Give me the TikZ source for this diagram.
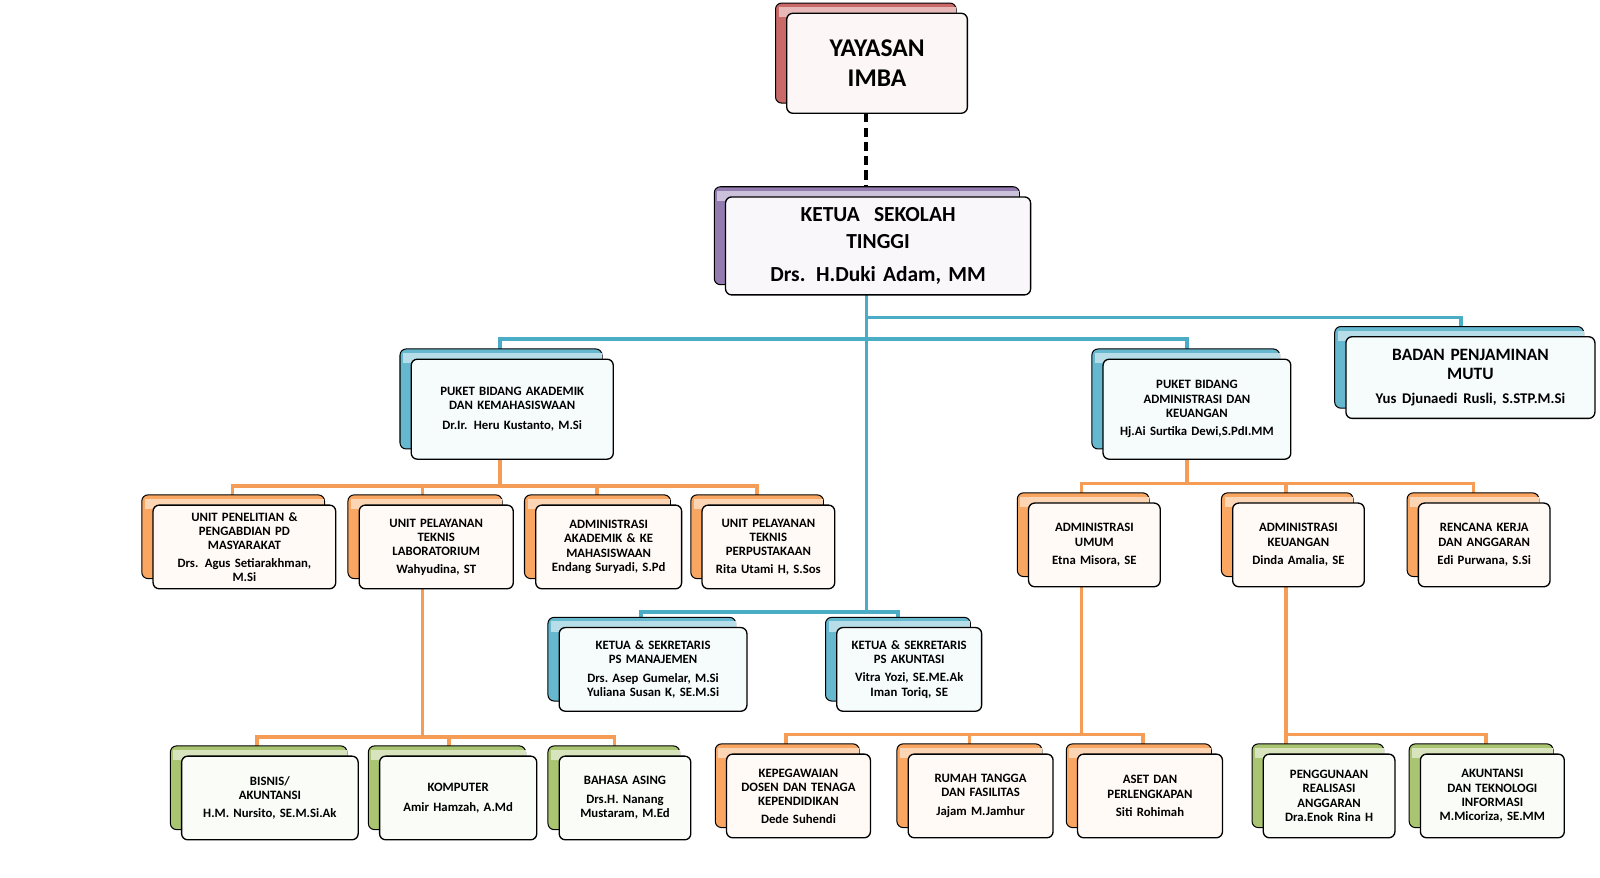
\documentclass[tikz,border=0pt]{standalone}
\usepackage{fontspec}
\setmainfont{Carlito}
\definecolor{cred}{HTML}{C0504D}
\definecolor{cpur}{HTML}{8064A2}
\definecolor{cblu}{HTML}{4BACC6}
\definecolor{cora}{HTML}{F79646}
\definecolor{cgre}{HTML}{9BBB59}
\definecolor{lblue}{HTML}{4BACC6}
\definecolor{lora}{HTML}{F59D56}
\tikzset{
 frontbox/.style={draw=black, line width=1.3pt, rounded corners=6pt, align=center, inner sep=2pt, font=\bfseries\fontsize{12.5}{14}\selectfont},
 backbox/.style={draw=black, line width=1pt, rounded corners=6pt},
 bl/.style={draw=lblue, line width=3.5pt},
 ol/.style={draw=lora, line width=3.5pt},
}
\newcommand{\bx}[8][]{%
 \path[backbox, fill=#7!85] ({#3-11},{#4-10}) rectangle ({#5-11},{#6-10});
 \path[fill=white!60!#7] ({#3-8},{#4-6}) rectangle ({#5-11},{#4+4});
 \node[frontbox, fill=#7!5, minimum width={(#5-#3)*1pt}, minimum height={(#6-#4)*1pt}, text width={(#5-#3-6)*1pt}, #1] (#2) at ({(#3+#5)/2},{(#4+#6)/2}) {#8};}
\begin{document}
\begin{tikzpicture}[x=1pt,y=-1pt]
\useasboundingbox (0,0) rectangle (1568,860);
\draw[bl] (849,289) -- (849,600);
\draw[bl] (490,342) |- (1163,332) -- (1163,342);
\draw[bl] (849,311) -| (1432,320);
\draw[bl] (628,605) |- (880,600) -- (880,605);
\draw[line width=4pt, dash pattern=on 9pt off 5pt] (849,111) -- (849,183);
\draw[ol] (490,450) -- (490,476);
\draw[ol] (228,485) |- (742,476) -- (742,485);
\draw[ol] (414,476) -- (414,485);
\draw[ol] (585,476) -- (585,485);
\draw[ol] (414,577) -- (414,722);
\draw[ol] (252,731) |- (602,722) -- (602,731);
\draw[ol] (440,722) -- (440,731);
\draw[ol] (1163,450) -- (1163,474);
\draw[ol] (1060,483) |- (1444,474) -- (1444,483);
\draw[ol] (1260,474) -- (1260,483);
\draw[ol] (1060,575) -- (1060,720);
\draw[ol] (770,729) |- (1120,720) -- (1120,729);
\draw[ol] (950,720) -- (950,729);
\draw[ol] (1260,575) |- (1456,720) -- (1456,729);
\draw[ol] (1260,720) -- (1260,729);
\bx[font=\bfseries\fontsize{25}{30}\selectfont]{yay}{771}{13}{948}{111}{cred}{YAYASAN\\IMBA}
\bx[font=\bfseries\fontsize{21}{26}\selectfont]{ket}{711}{193}{1010}{289}{cpur}{KETUA\ \ SEKOLAH\\TINGGI\\[6pt]Drs. H.Duki Adam, MM}
\bx{pak}{403}{352}{601}{450}{cblu}{PUKET BIDANG AKADEMIK\\DAN KEMAHASISWAAN\\[5pt]Dr.Ir. Heru Kustanto, M.Si}
\bx{pad}{1081}{352}{1265}{450}{cblu}{PUKET BIDANG\\ADMINISTRASI DAN\\KEUANGAN\\[4pt]Hj.Ai Surtika Dewi,S.PdI.MM}
\bx[font=\bfseries\fontsize{17}{19}\selectfont]{bpm}{1319}{330}{1563}{410}{cblu}{BADAN PENJAMINAN\\MUTU\\[4pt]{\fontsize{14.5}{16}\selectfont Yus Djunaedi Rusli, S.STP.M.Si}}
\bx{upp}{150}{495}{329}{577}{cora}{UNIT PENELITIAN \&\\PENGABDIAN PD\\MASYARAKAT\\[3pt]Drs. Agus Setiarakhman,\\M.Si}
\bx{ulab}{352}{495}{503}{577}{cora}{UNIT PELAYANAN\\TEKNIS\\LABORATORIUM\\[3pt]Wahyudina, ST}
\bx{aak}{525}{495}{668}{577}{cora}{ADMINISTRASI\\AKADEMIK \& KE\\MAHASISWAAN\\Endang Suryadi, S.Pd}
\bx{uper}{688}{495}{818}{577}{cora}{UNIT PELAYANAN\\TEKNIS\\PERPUSTAKAAN\\[3pt]Rita Utami H, S.Sos}
\bx{adu}{1008}{493}{1137}{575}{cora}{ADMINISTRASI\\UMUM\\[4pt]Etna Misora, SE}
\bx{adk}{1208}{493}{1337}{575}{cora}{ADMINISTRASI\\KEUANGAN\\[4pt]Dinda Amalia, SE}
\bx{rka}{1390}{493}{1519}{575}{cora}{RENCANA KERJA\\DAN ANGGARAN\\[4pt]Edi Purwana, S.Si}
\bx{psm}{548}{615}{732}{697}{cblu}{KETUA \& SEKRETARIS\\PS MANAJEMEN\\[4pt]Drs.\ Asep Gumelar, M.Si\\Yuliana Susan K, SE.M.Si}
\bx{psa}{820}{615}{962}{697}{cblu}{KETUA \& SEKRETARIS\\PS AKUNTASI\\[4pt]Vitra Yozi, SE.ME.Ak\\Iman Toriq, SE}
\bx{bis}{178}{741}{351}{823}{cgre}{BISNIS/\\AKUNTANSI\\[4pt]H.M. Nursito, SE.M.Si.Ak}
\bx{kom}{372}{741}{526}{823}{cgre}{KOMPUTER\\[6pt]Amir Hamzah, A.Md}
\bx{bah}{548}{741}{677}{823}{cgre}{BAHASA ASING\\[4pt]Drs.H. Nanang\\Mustaram, M.Ed}
\bx{kep}{712}{739}{853}{821}{cora}{KEPEGAWAIAN\\DOSEN DAN TENAGA\\KEPENDIDIKAN\\[3pt]Dede Suhendi}
\bx{rum}{890}{739}{1032}{821}{cora}{RUMAH TANGGA\\DAN FASILITAS\\[4pt]Jajam M.Jamhur}
\bx{ase}{1056}{739}{1198}{821}{cora}{ASET DAN\\PERLENGKAPAN\\[4pt]Siti Rohimah}
\bx{pen}{1238}{739}{1367}{821}{cgre}{PENGGUNAAN\\REALISASI\\ANGGARAN\\Dra.Enok Rina H}
\bx{ati}{1392}{739}{1533}{821}{cgre}{AKUNTANSI\\DAN TEKNOLOGI\\INFORMASI\\M.Micoriza, SE.MM}
\end{tikzpicture}
\end{document}
